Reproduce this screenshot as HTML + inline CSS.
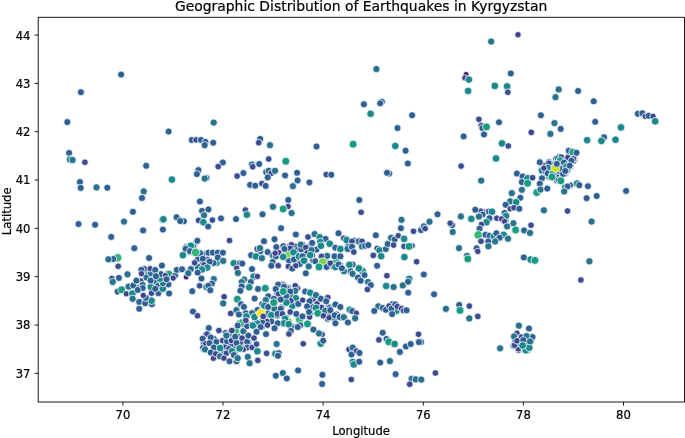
<!DOCTYPE html>
<html><head><meta charset="utf-8"><title>Geographic Distribution of Earthquakes in Kyrgyzstan</title>
<style>html,body{margin:0;padding:0;background:#fff;overflow:hidden}svg{display:block}text{font-family:"DejaVu Sans","Liberation Sans",sans-serif;fill:#000;stroke:#000;stroke-width:0.2px}.tk{font-size:11.6px}.lb{font-size:11.6px}.tt{font-size:13.92px}.m circle,.m path{stroke:#fff;stroke-width:0.75}</style></head><body>
<svg width="685" height="438" viewBox="0 0 685 438">
<rect width="685" height="438" fill="#fff"/>
<text class="tt" x="361.1" y="10.5" text-anchor="middle">Geographic Distribution of Earthquakes in Kyrgyzstan</text>
<text class="lb" x="361.1" y="435" text-anchor="middle">Longitude</text>
<text class="lb" transform="translate(10.9,211.3) rotate(-90)" text-anchor="middle">Latitude</text>
<g stroke="#000" stroke-width="0.9" fill="none">
<line x1="122.9" y1="402.0" x2="122.9" y2="405.6"/>
<line x1="223.0" y1="402.0" x2="223.0" y2="405.6"/>
<line x1="323.1" y1="402.0" x2="323.1" y2="405.6"/>
<line x1="423.3" y1="402.0" x2="423.3" y2="405.6"/>
<line x1="523.4" y1="402.0" x2="523.4" y2="405.6"/>
<line x1="623.5" y1="402.0" x2="623.5" y2="405.6"/>
<line x1="34.6" y1="373.3" x2="38.2" y2="373.3"/>
<line x1="34.6" y1="325.0" x2="38.2" y2="325.0"/>
<line x1="34.6" y1="276.7" x2="38.2" y2="276.7"/>
<line x1="34.6" y1="228.3" x2="38.2" y2="228.3"/>
<line x1="34.6" y1="180.0" x2="38.2" y2="180.0"/>
<line x1="34.6" y1="131.7" x2="38.2" y2="131.7"/>
<line x1="34.6" y1="83.4" x2="38.2" y2="83.4"/>
<line x1="34.6" y1="35.1" x2="38.2" y2="35.1"/>
</g>
<text class="tk" x="122.9" y="418.6" text-anchor="middle">70</text>
<text class="tk" x="223.0" y="418.6" text-anchor="middle">72</text>
<text class="tk" x="323.1" y="418.6" text-anchor="middle">74</text>
<text class="tk" x="423.3" y="418.6" text-anchor="middle">76</text>
<text class="tk" x="523.4" y="418.6" text-anchor="middle">78</text>
<text class="tk" x="623.5" y="418.6" text-anchor="middle">80</text>
<text class="tk" x="30.4" y="377.7" text-anchor="end">37</text>
<text class="tk" x="30.4" y="329.4" text-anchor="end">38</text>
<text class="tk" x="30.4" y="281.1" text-anchor="end">39</text>
<text class="tk" x="30.4" y="232.7" text-anchor="end">40</text>
<text class="tk" x="30.4" y="184.4" text-anchor="end">41</text>
<text class="tk" x="30.4" y="136.1" text-anchor="end">42</text>
<text class="tk" x="30.4" y="87.8" text-anchor="end">43</text>
<text class="tk" x="30.4" y="39.5" text-anchor="end">44</text>
<g class="m">
<circle cx="273.8" cy="256.4" r="3.52" fill="#2e6094"/>
<circle cx="293.1" cy="245.7" r="3.52" fill="#2e6094"/>
<circle cx="296.1" cy="250.5" r="3.52" fill="#2e6094"/>
<circle cx="300.2" cy="262.2" r="3.52" fill="#2e6094"/>
<circle cx="298.7" cy="263.5" r="3.62" fill="#2a738e"/>
<circle cx="302.6" cy="249.0" r="3.52" fill="#2e6094"/>
<circle cx="348.8" cy="247.2" r="3.52" fill="#2e6094"/>
<circle cx="541.4" cy="169.5" r="3.62" fill="#2a738e"/>
<circle cx="541.1" cy="169.6" r="3.32" fill="#3b4c93"/>
<circle cx="559.6" cy="161.9" r="3.32" fill="#3b4c93"/>
<circle cx="560.9" cy="161.5" r="3.62" fill="#2a738e"/>
<circle cx="564.4" cy="165.2" r="3.52" fill="#2e6094"/>
<circle cx="563.3" cy="164.5" r="3.52" fill="#2e6094"/>
<circle cx="558.9" cy="173.6" r="3.52" fill="#2e6094"/>
<circle cx="559.3" cy="171.0" r="3.52" fill="#2e6094"/>
<circle cx="555.0" cy="174.7" r="3.52" fill="#2e6094"/>
<circle cx="558.4" cy="173.3" r="3.32" fill="#3b4c93"/>
<circle cx="542.3" cy="165.2" r="3.52" fill="#2e6094"/>
<circle cx="543.7" cy="166.9" r="3.62" fill="#2a738e"/>
<circle cx="564.6" cy="161.0" r="3.52" fill="#2e6094"/>
<circle cx="565.1" cy="160.7" r="3.52" fill="#2e6094"/>
<circle cx="569.1" cy="164.9" r="3.62" fill="#2a738e"/>
<circle cx="570.5" cy="162.4" r="3.62" fill="#2a738e"/>
<circle cx="549.6" cy="172.2" r="3.52" fill="#2e6094"/>
<circle cx="551.6" cy="171.3" r="3.52" fill="#2e6094"/>
<circle cx="553.0" cy="166.8" r="3.32" fill="#3b4c93"/>
<circle cx="551.9" cy="166.0" r="3.52" fill="#2e6094"/>
<circle cx="558.6" cy="169.3" r="3.52" fill="#2e6094"/>
<circle cx="560.9" cy="167.0" r="3.62" fill="#2a738e"/>
<circle cx="565.2" cy="173.9" r="3.32" fill="#3b4c93"/>
<circle cx="564.1" cy="173.8" r="3.52" fill="#2e6094"/>
<circle cx="548.3" cy="175.1" r="3.62" fill="#2a738e"/>
<circle cx="549.6" cy="177.0" r="3.52" fill="#2e6094"/>
<circle cx="555.1" cy="178.2" r="3.52" fill="#2e6094"/>
<circle cx="555.9" cy="175.8" r="3.32" fill="#3b4c93"/>
<circle cx="545.4" cy="170.0" r="3.62" fill="#2a738e"/>
<circle cx="545.9" cy="170.4" r="3.62" fill="#2a738e"/>
<circle cx="556.2" cy="158.7" r="3.52" fill="#2e6094"/>
<circle cx="559.1" cy="158.9" r="3.52" fill="#2e6094"/>
<circle cx="167.9" cy="273.6" r="3.62" fill="#2a738e"/>
<circle cx="199.1" cy="267.7" r="3.52" fill="#2e6094"/>
<circle cx="235.7" cy="332.6" r="3.62" fill="#2a738e"/>
<circle cx="289.8" cy="296.6" r="3.52" fill="#2e6094"/>
<circle cx="293.2" cy="298.5" r="3.32" fill="#3b4c93"/>
<circle cx="269.5" cy="313.9" r="3.52" fill="#2e6094"/>
<circle cx="312.6" cy="298.1" r="3.52" fill="#2e6094"/>
<circle cx="312.6" cy="307.9" r="3.52" fill="#2e6094"/>
<circle cx="328.6" cy="307.0" r="3.52" fill="#2e6094"/>
<circle cx="331.5" cy="313.2" r="3.52" fill="#2e6094"/>
<circle cx="334.8" cy="316.9" r="3.52" fill="#2e6094"/>
<circle cx="286.7" cy="317.8" r="3.52" fill="#2e6094"/>
<circle cx="214.1" cy="340.3" r="3.52" fill="#2e6094"/>
<circle cx="231.1" cy="334.1" r="3.32" fill="#3b4c93"/>
<circle cx="239.5" cy="340.6" r="3.32" fill="#3b4c93"/>
<circle cx="221.5" cy="351.7" r="3.52" fill="#2e6094"/>
<circle cx="211.9" cy="342.4" r="3.52" fill="#2e6094"/>
<circle cx="227.6" cy="346.4" r="3.52" fill="#2e6094"/>
<circle cx="229.6" cy="343.1" r="3.52" fill="#2e6094"/>
<circle cx="155.8" cy="287.2" r="3.52" fill="#2e6094"/>
<circle cx="149.0" cy="276.2" r="3.52" fill="#2e6094"/>
<circle cx="204.9" cy="253.6" r="3.32" fill="#3b4c93"/>
<circle cx="200.3" cy="258.2" r="3.52" fill="#2e6094"/>
<circle cx="186.2" cy="247.2" r="3.62" fill="#2a738e"/>
<circle cx="194.0" cy="244.5" r="3.62" fill="#2a738e"/>
<circle cx="335.0" cy="261.8" r="3.62" fill="#2a738e"/>
<circle cx="239.6" cy="322.7" r="3.32" fill="#3b4c93"/>
<circle cx="292.5" cy="326.7" r="3.52" fill="#2e6094"/>
<circle cx="561.3" cy="158.8" r="3.52" fill="#2e6094"/>
<circle cx="559.3" cy="156.8" r="3.52" fill="#2e6094"/>
<circle cx="566.6" cy="158.8" r="3.62" fill="#2a738e"/>
<circle cx="568.4" cy="156.4" r="3.32" fill="#3b4c93"/>
<circle cx="574.5" cy="160.1" r="3.32" fill="#3b4c93"/>
<circle cx="573.7" cy="157.4" r="3.52" fill="#2e6094"/>
<circle cx="569.3" cy="161.0" r="3.62" fill="#2a738e"/>
<circle cx="573.2" cy="161.3" r="3.32" fill="#3b4c93"/>
<circle cx="549.2" cy="162.1" r="3.62" fill="#2a738e"/>
<circle cx="550.1" cy="163.5" r="3.52" fill="#2e6094"/>
<circle cx="558.2" cy="160.6" r="3.52" fill="#2e6094"/>
<circle cx="558.6" cy="161.2" r="3.32" fill="#3b4c93"/>
<circle cx="564.5" cy="163.9" r="3.62" fill="#2a738e"/>
<circle cx="562.5" cy="162.3" r="3.52" fill="#2e6094"/>
<circle cx="568.3" cy="165.0" r="3.52" fill="#2e6094"/>
<circle cx="568.3" cy="165.6" r="3.52" fill="#2e6094"/>
<circle cx="570.5" cy="166.6" r="3.32" fill="#3b4c93"/>
<circle cx="568.9" cy="167.0" r="3.62" fill="#2a738e"/>
<circle cx="564.1" cy="169.4" r="3.52" fill="#2e6094"/>
<circle cx="566.8" cy="170.5" r="3.62" fill="#2a738e"/>
<circle cx="549.6" cy="166.5" r="3.52" fill="#2e6094"/>
<circle cx="547.7" cy="167.0" r="3.62" fill="#2a738e"/>
<circle cx="543.1" cy="167.1" r="3.62" fill="#2a738e"/>
<circle cx="542.4" cy="168.7" r="3.62" fill="#2a738e"/>
<circle cx="546.8" cy="174.2" r="3.52" fill="#2e6094"/>
<circle cx="549.4" cy="173.5" r="3.62" fill="#2a738e"/>
<circle cx="551.2" cy="175.1" r="3.52" fill="#2e6094"/>
<circle cx="551.6" cy="174.0" r="3.52" fill="#2e6094"/>
<circle cx="553.3" cy="177.8" r="3.52" fill="#2e6094"/>
<circle cx="553.0" cy="176.5" r="3.52" fill="#2e6094"/>
<circle cx="559.6" cy="178.5" r="3.52" fill="#2e6094"/>
<circle cx="556.9" cy="180.6" r="3.32" fill="#3b4c93"/>
<circle cx="482.8" cy="211.7" r="3.32" fill="#3b4c93"/>
<circle cx="502.9" cy="219.0" r="3.52" fill="#2e6094"/>
<circle cx="505.5" cy="220.5" r="3.52" fill="#2e6094"/>
<circle cx="488.4" cy="237.2" r="3.52" fill="#2e6094"/>
<circle cx="499.0" cy="235.7" r="3.52" fill="#2e6094"/>
<circle cx="156.3" cy="290.6" r="3.62" fill="#2a738e"/>
<circle cx="162.9" cy="287.5" r="3.62" fill="#2a738e"/>
<circle cx="138.6" cy="288.0" r="3.52" fill="#2e6094"/>
<circle cx="146.3" cy="275.9" r="3.52" fill="#2e6094"/>
<circle cx="160.1" cy="280.2" r="3.62" fill="#2a738e"/>
<circle cx="152.8" cy="271.9" r="3.32" fill="#3b4c93"/>
<circle cx="144.5" cy="270.2" r="3.52" fill="#2e6094"/>
<circle cx="164.5" cy="276.5" r="3.52" fill="#2e6094"/>
<circle cx="164.8" cy="277.9" r="3.32" fill="#3b4c93"/>
<circle cx="158.0" cy="277.2" r="3.62" fill="#2a738e"/>
<circle cx="185.7" cy="250.2" r="3.32" fill="#3b4c93"/>
<circle cx="189.8" cy="252.1" r="3.52" fill="#2e6094"/>
<circle cx="202.9" cy="260.8" r="3.52" fill="#2e6094"/>
<circle cx="218.5" cy="258.8" r="3.52" fill="#2e6094"/>
<circle cx="202.4" cy="264.8" r="3.62" fill="#2a738e"/>
<circle cx="320.9" cy="241.0" r="3.62" fill="#2a738e"/>
<circle cx="302.5" cy="244.8" r="3.52" fill="#2e6094"/>
<circle cx="308.1" cy="247.0" r="3.52" fill="#2e6094"/>
<circle cx="289.7" cy="246.4" r="3.32" fill="#3b4c93"/>
<circle cx="306.7" cy="254.3" r="3.52" fill="#2e6094"/>
<circle cx="294.8" cy="250.7" r="3.62" fill="#2a738e"/>
<circle cx="310.9" cy="248.7" r="3.62" fill="#2a738e"/>
<circle cx="294.4" cy="258.5" r="3.62" fill="#2a738e"/>
<circle cx="297.5" cy="264.6" r="3.62" fill="#2a738e"/>
<circle cx="300.1" cy="256.9" r="3.62" fill="#2a738e"/>
<circle cx="304.4" cy="257.5" r="3.62" fill="#2a738e"/>
<circle cx="312.2" cy="255.3" r="3.52" fill="#2e6094"/>
<circle cx="325.1" cy="262.3" r="3.62" fill="#2a738e"/>
<circle cx="333.2" cy="266.7" r="3.32" fill="#3b4c93"/>
<circle cx="340.0" cy="265.1" r="3.62" fill="#2a738e"/>
<circle cx="283.4" cy="284.6" r="3.32" fill="#3b4c93"/>
<circle cx="287.8" cy="287.6" r="3.52" fill="#2e6094"/>
<circle cx="294.3" cy="289.9" r="3.52" fill="#2e6094"/>
<circle cx="277.2" cy="292.6" r="3.62" fill="#2a738e"/>
<circle cx="291.6" cy="291.6" r="3.52" fill="#2e6094"/>
<circle cx="316.3" cy="296.6" r="3.62" fill="#2a738e"/>
<circle cx="319.0" cy="299.1" r="3.52" fill="#2e6094"/>
<circle cx="290.3" cy="301.7" r="3.32" fill="#3b4c93"/>
<circle cx="296.0" cy="304.4" r="3.32" fill="#3b4c93"/>
<circle cx="266.5" cy="304.7" r="3.52" fill="#2e6094"/>
<circle cx="275.7" cy="310.1" r="3.52" fill="#2e6094"/>
<circle cx="281.5" cy="307.5" r="3.52" fill="#2e6094"/>
<circle cx="308.6" cy="305.5" r="3.52" fill="#2e6094"/>
<circle cx="318.0" cy="307.4" r="3.32" fill="#3b4c93"/>
<circle cx="310.1" cy="313.1" r="3.52" fill="#2e6094"/>
<circle cx="324.5" cy="312.0" r="3.52" fill="#2e6094"/>
<circle cx="325.4" cy="315.0" r="3.62" fill="#2a738e"/>
<circle cx="327.8" cy="318.7" r="3.62" fill="#2a738e"/>
<circle cx="336.7" cy="314.4" r="3.52" fill="#2e6094"/>
<circle cx="341.7" cy="317.6" r="3.62" fill="#2a738e"/>
<circle cx="277.4" cy="315.5" r="3.52" fill="#2e6094"/>
<circle cx="286.2" cy="323.6" r="3.32" fill="#3b4c93"/>
<circle cx="262.2" cy="321.6" r="3.62" fill="#2a738e"/>
<circle cx="255.8" cy="322.5" r="3.52" fill="#2e6094"/>
<circle cx="262.3" cy="326.3" r="3.52" fill="#2e6094"/>
<circle cx="206.0" cy="335.2" r="3.62" fill="#2a738e"/>
<circle cx="209.7" cy="336.3" r="3.52" fill="#2e6094"/>
<circle cx="204.0" cy="343.2" r="3.52" fill="#2e6094"/>
<circle cx="211.2" cy="343.8" r="3.32" fill="#3b4c93"/>
<circle cx="214.7" cy="342.3" r="3.32" fill="#3b4c93"/>
<circle cx="203.6" cy="349.0" r="3.52" fill="#2e6094"/>
<circle cx="215.3" cy="348.2" r="3.52" fill="#2e6094"/>
<circle cx="218.1" cy="354.0" r="3.32" fill="#3b4c93"/>
<circle cx="218.3" cy="347.9" r="3.52" fill="#2e6094"/>
<circle cx="225.4" cy="340.6" r="3.62" fill="#2a738e"/>
<circle cx="229.7" cy="339.2" r="3.52" fill="#2e6094"/>
<circle cx="227.8" cy="334.7" r="3.62" fill="#2a738e"/>
<circle cx="237.5" cy="336.3" r="3.52" fill="#2e6094"/>
<circle cx="226.9" cy="349.6" r="3.32" fill="#3b4c93"/>
<circle cx="234.3" cy="352.2" r="3.62" fill="#2a738e"/>
<circle cx="248.3" cy="342.7" r="3.62" fill="#2a738e"/>
<circle cx="248.1" cy="324.6" r="3.32" fill="#3b4c93"/>
<circle cx="346.8" cy="239.1" r="3.52" fill="#2e6094"/>
<circle cx="353.9" cy="240.6" r="3.52" fill="#2e6094"/>
<circle cx="365.2" cy="244.7" r="3.52" fill="#2e6094"/>
<circle cx="384.3" cy="309.1" r="3.52" fill="#2e6094"/>
<circle cx="392.8" cy="303.9" r="3.52" fill="#2e6094"/>
<circle cx="518.5" cy="350.2" r="3.32" fill="#3b4c93"/>
<circle cx="519.0" cy="344.0" r="3.32" fill="#3b4c93"/>
<circle cx="527.2" cy="350.8" r="3.32" fill="#3b4c93"/>
<circle cx="528.2" cy="336.4" r="3.32" fill="#3b4c93"/>
<circle cx="513.5" cy="345.8" r="3.52" fill="#2e6094"/>
<circle cx="515.4" cy="340.8" r="3.52" fill="#2e6094"/>
<circle cx="524.0" cy="338.9" r="3.52" fill="#2e6094"/>
<circle cx="531.1" cy="340.7" r="3.62" fill="#2a738e"/>
<circle cx="523.3" cy="346.7" r="3.32" fill="#3b4c93"/>
<circle cx="286.6" cy="323.1" r="3.52" fill="#2e6094"/>
<circle cx="264.7" cy="316.2" r="3.52" fill="#2e6094"/>
<circle cx="556.4" cy="169.3" r="3.62" fill="#2a738e"/>
<circle cx="557.0" cy="166.9" r="3.52" fill="#2e6094"/>
<circle cx="556.1" cy="165.0" r="3.62" fill="#2a738e"/>
<circle cx="556.8" cy="163.1" r="3.32" fill="#3b4c93"/>
<circle cx="241.0" cy="346.8" r="3.32" fill="#3b4c93"/>
<circle cx="284.9" cy="291.5" r="3.52" fill="#2e6094"/>
<circle cx="260.4" cy="251.2" r="3.52" fill="#2e6094"/>
<circle cx="272.5" cy="255.0" r="3.62" fill="#2a738e"/>
<circle cx="275.8" cy="256.6" r="3.52" fill="#2e6094"/>
<circle cx="283.3" cy="246.2" r="3.52" fill="#2e6094"/>
<circle cx="295.3" cy="246.7" r="3.52" fill="#2e6094"/>
<circle cx="289.1" cy="260.8" r="3.52" fill="#2e6094"/>
<circle cx="297.4" cy="250.0" r="3.52" fill="#2e6094"/>
<circle cx="298.3" cy="261.6" r="3.52" fill="#2e6094"/>
<circle cx="299.9" cy="264.1" r="3.52" fill="#2e6094"/>
<circle cx="301.3" cy="249.2" r="3.52" fill="#2e6094"/>
<circle cx="327.1" cy="255.9" r="3.62" fill="#2a738e"/>
<circle cx="347.9" cy="246.3" r="3.32" fill="#3b4c93"/>
<circle cx="313.0" cy="260.4" r="3.32" fill="#3b4c93"/>
<circle cx="542.0" cy="170.5" r="3.82" fill="#1b888c"/>
<circle cx="561.5" cy="162.6" r="3.52" fill="#2e6094"/>
<circle cx="562.8" cy="165.9" r="3.52" fill="#2e6094"/>
<circle cx="559.5" cy="172.1" r="3.82" fill="#1b888c"/>
<circle cx="557.0" cy="173.8" r="3.52" fill="#2e6094"/>
<circle cx="544.5" cy="165.9" r="3.52" fill="#2e6094"/>
<circle cx="566.9" cy="160.5" r="3.52" fill="#2e6094"/>
<circle cx="569.9" cy="163.4" r="3.32" fill="#3b4c93"/>
<circle cx="551.0" cy="170.5" r="3.52" fill="#2e6094"/>
<circle cx="553.5" cy="165.0" r="3.52" fill="#2e6094"/>
<circle cx="560.0" cy="168.5" r="3.32" fill="#3b4c93"/>
<circle cx="563.0" cy="174.0" r="3.52" fill="#2e6094"/>
<circle cx="549.0" cy="176.0" r="3.62" fill="#2a738e"/>
<circle cx="556.5" cy="177.0" r="3.52" fill="#2e6094"/>
<circle cx="545.5" cy="171.5" r="3.32" fill="#3b4c93"/>
<circle cx="558.0" cy="158.5" r="3.52" fill="#2e6094"/>
<circle cx="150.8" cy="287.1" r="3.82" fill="#1b888c"/>
<circle cx="169.1" cy="274.3" r="3.97" fill="#199b82"/>
<circle cx="216.6" cy="262.6" r="3.97" fill="#199b82"/>
<circle cx="197.7" cy="266.9" r="3.62" fill="#2a738e"/>
<circle cx="235.2" cy="331.2" r="4.27" fill="#35b779"/>
<circle cx="290.8" cy="295.4" r="3.62" fill="#2a738e"/>
<circle cx="297.4" cy="288.3" r="3.32" fill="#3b4c93"/>
<circle cx="295.8" cy="298.3" r="3.82" fill="#1b888c"/>
<circle cx="292.4" cy="305.8" r="3.82" fill="#1b888c"/>
<circle cx="262.1" cy="304.1" r="3.32" fill="#3b4c93"/>
<circle cx="268.3" cy="313.3" r="3.62" fill="#2a738e"/>
<circle cx="318.3" cy="297.1" r="3.32" fill="#3b4c93"/>
<circle cx="313.3" cy="299.6" r="3.17" fill="#3f448c"/>
<circle cx="317.1" cy="303.7" r="3.17" fill="#3f448c"/>
<circle cx="311.4" cy="306.6" r="3.32" fill="#3b4c93"/>
<circle cx="321.6" cy="307.5" r="3.32" fill="#3b4c93"/>
<circle cx="329.5" cy="307.9" r="3.32" fill="#3b4c93"/>
<circle cx="309.6" cy="317.0" r="3.32" fill="#3b4c93"/>
<circle cx="330.0" cy="314.0" r="3.32" fill="#3b4c93"/>
<circle cx="334.5" cy="318.3" r="3.82" fill="#1b888c"/>
<circle cx="286.2" cy="319.6" r="3.97" fill="#199b82"/>
<circle cx="299.6" cy="319.5" r="4.27" fill="#35b779"/>
<circle cx="288.3" cy="322.1" r="4.47" fill="#7ad151"/>
<circle cx="213.8" cy="338.7" r="3.52" fill="#2e6094"/>
<circle cx="203.0" cy="347.5" r="3.32" fill="#3b4c93"/>
<circle cx="225.5" cy="332.9" r="3.32" fill="#3b4c93"/>
<circle cx="228.8" cy="334.2" r="3.52" fill="#2e6094"/>
<circle cx="240.4" cy="342.5" r="3.17" fill="#3f448c"/>
<circle cx="232.9" cy="347.5" r="3.17" fill="#3f448c"/>
<circle cx="223.0" cy="350.0" r="3.62" fill="#2a738e"/>
<circle cx="213.4" cy="358.3" r="3.17" fill="#3f448c"/>
<circle cx="211.7" cy="341.2" r="3.52" fill="#2e6094"/>
<circle cx="225.5" cy="346.6" r="3.32" fill="#3b4c93"/>
<circle cx="230.9" cy="344.6" r="3.52" fill="#2e6094"/>
<circle cx="155.9" cy="281.5" r="3.62" fill="#2a738e"/>
<circle cx="157.5" cy="286.1" r="3.32" fill="#3b4c93"/>
<circle cx="148.0" cy="274.5" r="3.52" fill="#2e6094"/>
<circle cx="202.8" cy="254.2" r="3.52" fill="#2e6094"/>
<circle cx="198.2" cy="258.8" r="3.52" fill="#2e6094"/>
<circle cx="207.4" cy="259.6" r="3.32" fill="#3b4c93"/>
<circle cx="213.6" cy="263.0" r="3.52" fill="#2e6094"/>
<circle cx="187.8" cy="248.0" r="3.52" fill="#2e6094"/>
<circle cx="192.8" cy="246.3" r="3.82" fill="#1b888c"/>
<circle cx="287.6" cy="253.7" r="4.47" fill="#7ad151"/>
<circle cx="536.7" cy="192.5" r="3.97" fill="#199b82"/>
<circle cx="336.3" cy="262.1" r="4.27" fill="#35b779"/>
<circle cx="242.1" cy="323.0" r="4.27" fill="#35b779"/>
<circle cx="186.2" cy="277.0" r="2.92" fill="#45186a"/>
<circle cx="206.5" cy="287.0" r="3.82" fill="#1b888c"/>
<circle cx="362.6" cy="271.3" r="3.97" fill="#199b82"/>
<circle cx="396.5" cy="310.7" r="3.82" fill="#1b888c"/>
<circle cx="291.6" cy="327.5" r="3.17" fill="#3f448c"/>
<circle cx="80.9" cy="92.2" r="3.52" fill="#2e6094"/>
<circle cx="121.1" cy="74.6" r="3.52" fill="#2e6094"/>
<circle cx="376.4" cy="69.1" r="3.62" fill="#2a738e"/>
<circle cx="491.2" cy="41.5" r="3.62" fill="#2a738e"/>
<circle cx="466.1" cy="74.4" r="2.92" fill="#45186a"/>
<circle cx="464.9" cy="77.9" r="3.17" fill="#3f448c"/>
<circle cx="468.9" cy="79.6" r="3.82" fill="#1b888c"/>
<circle cx="468.1" cy="91.0" r="3.82" fill="#1b888c"/>
<circle cx="494.8" cy="85.9" r="3.82" fill="#1b888c"/>
<circle cx="507.1" cy="86.4" r="3.82" fill="#1b888c"/>
<circle cx="510.8" cy="73.4" r="3.52" fill="#2e6094"/>
<circle cx="507.8" cy="92.2" r="3.32" fill="#3b4c93"/>
<circle cx="363.9" cy="104.3" r="3.52" fill="#2e6094"/>
<circle cx="381.9" cy="101.8" r="3.52" fill="#2e6094"/>
<circle cx="380.2" cy="103.3" r="3.52" fill="#2e6094"/>
<circle cx="518.0" cy="34.7" r="3.17" fill="#3f448c"/>
<circle cx="558.7" cy="89.4" r="3.62" fill="#2a738e"/>
<circle cx="555.5" cy="97.2" r="3.62" fill="#2a738e"/>
<circle cx="578.1" cy="91.0" r="3.52" fill="#2e6094"/>
<circle cx="593.7" cy="101.3" r="3.52" fill="#2e6094"/>
<circle cx="67.3" cy="122.1" r="3.52" fill="#2e6094"/>
<circle cx="69.1" cy="153.0" r="3.52" fill="#2e6094"/>
<circle cx="70.1" cy="159.5" r="3.82" fill="#1b888c"/>
<circle cx="72.6" cy="160.0" r="3.62" fill="#2a738e"/>
<circle cx="84.9" cy="162.3" r="3.32" fill="#3b4c93"/>
<circle cx="79.9" cy="182.1" r="3.52" fill="#2e6094"/>
<circle cx="80.7" cy="187.9" r="3.52" fill="#2e6094"/>
<circle cx="96.5" cy="187.4" r="3.62" fill="#2a738e"/>
<circle cx="107.3" cy="187.7" r="3.52" fill="#2e6094"/>
<circle cx="146.2" cy="165.8" r="3.52" fill="#2e6094"/>
<circle cx="143.7" cy="191.4" r="3.62" fill="#2a738e"/>
<circle cx="142.0" cy="198.0" r="3.52" fill="#2e6094"/>
<circle cx="132.9" cy="211.8" r="3.52" fill="#2e6094"/>
<circle cx="168.6" cy="131.6" r="3.52" fill="#2e6094"/>
<circle cx="171.9" cy="179.6" r="3.82" fill="#1b888c"/>
<circle cx="213.7" cy="122.6" r="3.62" fill="#2a738e"/>
<circle cx="191.8" cy="139.9" r="3.52" fill="#2e6094"/>
<circle cx="196.1" cy="139.9" r="3.32" fill="#3b4c93"/>
<circle cx="200.9" cy="139.9" r="3.52" fill="#2e6094"/>
<circle cx="205.4" cy="141.9" r="3.52" fill="#2e6094"/>
<circle cx="204.7" cy="145.2" r="3.52" fill="#2e6094"/>
<circle cx="213.2" cy="142.7" r="3.52" fill="#2e6094"/>
<circle cx="260.2" cy="138.9" r="3.52" fill="#2e6094"/>
<circle cx="258.7" cy="142.7" r="3.32" fill="#3b4c93"/>
<circle cx="270.0" cy="145.2" r="3.62" fill="#2a738e"/>
<circle cx="316.5" cy="146.5" r="3.52" fill="#2e6094"/>
<circle cx="222.8" cy="162.5" r="3.52" fill="#2e6094"/>
<circle cx="218.2" cy="166.6" r="3.32" fill="#3b4c93"/>
<circle cx="198.4" cy="170.1" r="3.52" fill="#2e6094"/>
<circle cx="196.9" cy="174.1" r="3.52" fill="#2e6094"/>
<circle cx="206.5" cy="177.9" r="3.52" fill="#2e6094"/>
<circle cx="204.7" cy="178.6" r="3.62" fill="#2a738e"/>
<circle cx="243.4" cy="173.1" r="3.52" fill="#2e6094"/>
<circle cx="237.1" cy="176.1" r="3.32" fill="#3b4c93"/>
<circle cx="251.9" cy="164.5" r="3.62" fill="#2a738e"/>
<circle cx="252.7" cy="166.8" r="3.32" fill="#3b4c93"/>
<circle cx="259.2" cy="164.0" r="3.52" fill="#2e6094"/>
<circle cx="268.7" cy="159.0" r="3.32" fill="#3b4c93"/>
<circle cx="285.8" cy="161.3" r="3.97" fill="#199b82"/>
<circle cx="266.2" cy="172.1" r="3.52" fill="#2e6094"/>
<circle cx="268.7" cy="170.8" r="3.62" fill="#2a738e"/>
<circle cx="271.2" cy="173.3" r="3.32" fill="#3b4c93"/>
<circle cx="275.0" cy="170.8" r="3.62" fill="#2a738e"/>
<circle cx="267.7" cy="177.4" r="3.52" fill="#2e6094"/>
<circle cx="285.1" cy="175.4" r="3.52" fill="#2e6094"/>
<circle cx="297.1" cy="172.8" r="3.52" fill="#2e6094"/>
<circle cx="297.6" cy="180.4" r="3.52" fill="#2e6094"/>
<circle cx="292.9" cy="186.2" r="3.62" fill="#2a738e"/>
<circle cx="309.4" cy="182.4" r="3.52" fill="#2e6094"/>
<circle cx="326.3" cy="174.6" r="3.32" fill="#3b4c93"/>
<circle cx="331.3" cy="174.8" r="3.52" fill="#2e6094"/>
<circle cx="250.1" cy="184.9" r="3.52" fill="#2e6094"/>
<circle cx="255.2" cy="185.7" r="3.52" fill="#2e6094"/>
<circle cx="261.9" cy="183.6" r="3.32" fill="#3b4c93"/>
<circle cx="265.7" cy="185.9" r="3.52" fill="#2e6094"/>
<circle cx="199.9" cy="201.5" r="3.52" fill="#2e6094"/>
<circle cx="262.5" cy="214.3" r="3.52" fill="#2e6094"/>
<circle cx="273.0" cy="206.8" r="3.62" fill="#2a738e"/>
<circle cx="288.3" cy="200.0" r="3.52" fill="#2e6094"/>
<circle cx="288.1" cy="206.5" r="3.17" fill="#3f448c"/>
<circle cx="283.1" cy="209.0" r="3.97" fill="#199b82"/>
<circle cx="291.6" cy="213.0" r="3.62" fill="#2a738e"/>
<circle cx="370.6" cy="113.8" r="3.82" fill="#1b888c"/>
<circle cx="412.1" cy="115.3" r="3.52" fill="#2e6094"/>
<circle cx="397.5" cy="128.1" r="3.52" fill="#2e6094"/>
<circle cx="353.1" cy="144.2" r="3.97" fill="#199b82"/>
<circle cx="395.3" cy="146.0" r="3.82" fill="#1b888c"/>
<circle cx="405.6" cy="150.7" r="3.52" fill="#2e6094"/>
<circle cx="407.8" cy="163.5" r="3.52" fill="#2e6094"/>
<circle cx="389.2" cy="173.6" r="3.52" fill="#2e6094"/>
<circle cx="387.0" cy="172.8" r="3.52" fill="#2e6094"/>
<circle cx="359.3" cy="200.0" r="3.52" fill="#2e6094"/>
<circle cx="361.1" cy="212.3" r="3.32" fill="#3b4c93"/>
<circle cx="437.5" cy="214.3" r="3.52" fill="#2e6094"/>
<circle cx="463.6" cy="136.4" r="3.52" fill="#2e6094"/>
<circle cx="461.1" cy="166.1" r="3.32" fill="#3b4c93"/>
<circle cx="478.9" cy="119.3" r="3.32" fill="#3b4c93"/>
<circle cx="481.2" cy="125.6" r="3.32" fill="#3b4c93"/>
<circle cx="482.4" cy="128.1" r="3.52" fill="#2e6094"/>
<circle cx="486.5" cy="126.9" r="3.97" fill="#199b82"/>
<circle cx="484.0" cy="134.4" r="3.52" fill="#2e6094"/>
<circle cx="499.0" cy="122.3" r="3.52" fill="#2e6094"/>
<circle cx="502.0" cy="143.4" r="3.82" fill="#1b888c"/>
<circle cx="508.3" cy="146.0" r="3.32" fill="#3b4c93"/>
<circle cx="496.0" cy="158.5" r="3.82" fill="#1b888c"/>
<circle cx="481.2" cy="180.6" r="3.62" fill="#2a738e"/>
<circle cx="540.9" cy="115.3" r="3.52" fill="#2e6094"/>
<circle cx="554.5" cy="123.1" r="3.62" fill="#2a738e"/>
<circle cx="560.7" cy="128.9" r="3.52" fill="#2e6094"/>
<circle cx="550.4" cy="133.9" r="3.62" fill="#2a738e"/>
<circle cx="531.3" cy="132.4" r="3.32" fill="#3b4c93"/>
<circle cx="595.2" cy="121.8" r="3.52" fill="#2e6094"/>
<circle cx="621.0" cy="127.4" r="3.82" fill="#1b888c"/>
<circle cx="587.1" cy="140.2" r="3.82" fill="#1b888c"/>
<circle cx="604.0" cy="137.2" r="3.52" fill="#2e6094"/>
<circle cx="601.4" cy="140.9" r="3.82" fill="#1b888c"/>
<circle cx="615.5" cy="139.7" r="3.82" fill="#1b888c"/>
<circle cx="637.9" cy="113.8" r="3.52" fill="#2e6094"/>
<circle cx="642.4" cy="113.3" r="3.52" fill="#2e6094"/>
<circle cx="645.4" cy="116.3" r="3.32" fill="#3b4c93"/>
<circle cx="648.7" cy="115.8" r="3.52" fill="#2e6094"/>
<circle cx="653.0" cy="116.3" r="3.17" fill="#3f448c"/>
<circle cx="655.2" cy="121.3" r="3.82" fill="#1b888c"/>
<circle cx="626.1" cy="190.9" r="3.52" fill="#2e6094"/>
<circle cx="596.7" cy="196.0" r="3.52" fill="#2e6094"/>
<circle cx="586.6" cy="198.2" r="3.52" fill="#2e6094"/>
<circle cx="587.9" cy="186.2" r="3.52" fill="#2e6094"/>
<circle cx="577.1" cy="183.6" r="3.82" fill="#1b888c"/>
<circle cx="579.3" cy="185.2" r="3.52" fill="#2e6094"/>
<circle cx="567.5" cy="211.0" r="3.32" fill="#3b4c93"/>
<circle cx="543.9" cy="210.3" r="3.62" fill="#2a738e"/>
<circle cx="568.8" cy="150.7" r="3.52" fill="#2e6094"/>
<circle cx="572.8" cy="152.2" r="3.97" fill="#199b82"/>
<circle cx="576.5" cy="152.8" r="3.52" fill="#2e6094"/>
<circle cx="561.2" cy="157.2" r="3.32" fill="#3b4c93"/>
<circle cx="567.8" cy="157.6" r="3.17" fill="#3f448c"/>
<circle cx="573.4" cy="158.8" r="3.32" fill="#3b4c93"/>
<circle cx="571.5" cy="160.7" r="3.52" fill="#2e6094"/>
<circle cx="539.8" cy="162.2" r="3.52" fill="#2e6094"/>
<circle cx="548.9" cy="163.2" r="3.32" fill="#3b4c93"/>
<circle cx="560.2" cy="160.7" r="3.97" fill="#199b82"/>
<circle cx="564.0" cy="162.6" r="3.52" fill="#2e6094"/>
<circle cx="566.5" cy="166.4" r="3.82" fill="#1b888c"/>
<circle cx="569.6" cy="165.7" r="3.52" fill="#2e6094"/>
<circle cx="565.2" cy="171.0" r="3.52" fill="#2e6094"/>
<circle cx="547.7" cy="167.9" r="3.82" fill="#1b888c"/>
<circle cx="543.9" cy="168.2" r="3.17" fill="#3f448c"/>
<circle cx="547.7" cy="173.3" r="3.52" fill="#2e6094"/>
<circle cx="552.7" cy="174.1" r="3.82" fill="#1b888c"/>
<circle cx="552.0" cy="177.0" r="3.97" fill="#199b82"/>
<circle cx="542.0" cy="178.3" r="3.52" fill="#2e6094"/>
<circle cx="558.3" cy="179.9" r="3.17" fill="#3f448c"/>
<circle cx="560.8" cy="180.8" r="3.97" fill="#199b82"/>
<circle cx="516.9" cy="173.6" r="3.52" fill="#2e6094"/>
<circle cx="522.6" cy="176.4" r="3.52" fill="#2e6094"/>
<circle cx="527.6" cy="178.3" r="3.82" fill="#1b888c"/>
<circle cx="532.6" cy="177.7" r="3.32" fill="#3b4c93"/>
<circle cx="521.9" cy="182.1" r="3.52" fill="#2e6094"/>
<circle cx="527.6" cy="183.3" r="3.97" fill="#199b82"/>
<circle cx="539.8" cy="183.7" r="3.52" fill="#2e6094"/>
<circle cx="521.9" cy="189.8" r="3.62" fill="#2a738e"/>
<circle cx="540.5" cy="189.6" r="3.62" fill="#2a738e"/>
<circle cx="547.3" cy="188.6" r="3.52" fill="#2e6094"/>
<circle cx="511.8" cy="193.2" r="3.62" fill="#2a738e"/>
<circle cx="570.3" cy="185.2" r="3.17" fill="#3f448c"/>
<circle cx="565.2" cy="187.5" r="3.97" fill="#199b82"/>
<circle cx="567.5" cy="186.5" r="3.52" fill="#2e6094"/>
<circle cx="564.2" cy="191.5" r="3.62" fill="#2a738e"/>
<circle cx="520.3" cy="197.8" r="3.52" fill="#2e6094"/>
<circle cx="510.2" cy="201.3" r="3.62" fill="#2a738e"/>
<circle cx="516.1" cy="202.2" r="3.82" fill="#1b888c"/>
<circle cx="505.6" cy="204.8" r="3.52" fill="#2e6094"/>
<circle cx="510.2" cy="208.8" r="3.17" fill="#3f448c"/>
<circle cx="514.0" cy="207.8" r="3.32" fill="#3b4c93"/>
<circle cx="519.3" cy="208.8" r="3.52" fill="#2e6094"/>
<circle cx="480.7" cy="211.1" r="3.17" fill="#3f448c"/>
<circle cx="475.3" cy="209.7" r="3.52" fill="#2e6094"/>
<circle cx="482.6" cy="214.5" r="3.52" fill="#2e6094"/>
<circle cx="478.9" cy="216.6" r="3.62" fill="#2a738e"/>
<circle cx="488.9" cy="211.6" r="3.52" fill="#2e6094"/>
<circle cx="492.0" cy="211.7" r="3.82" fill="#1b888c"/>
<circle cx="460.9" cy="216.4" r="3.62" fill="#2a738e"/>
<circle cx="471.3" cy="218.9" r="3.82" fill="#1b888c"/>
<circle cx="504.6" cy="212.9" r="3.52" fill="#2e6094"/>
<circle cx="506.1" cy="216.0" r="3.82" fill="#1b888c"/>
<circle cx="496.8" cy="218.2" r="3.32" fill="#3b4c93"/>
<circle cx="501.5" cy="218.9" r="3.17" fill="#3f448c"/>
<circle cx="489.5" cy="218.2" r="3.52" fill="#2e6094"/>
<circle cx="486.4" cy="222.3" r="3.82" fill="#1b888c"/>
<circle cx="504.6" cy="221.4" r="3.17" fill="#3f448c"/>
<circle cx="513.4" cy="223.3" r="3.62" fill="#2a738e"/>
<circle cx="507.1" cy="226.4" r="3.62" fill="#2a738e"/>
<circle cx="481.4" cy="224.5" r="3.17" fill="#3f448c"/>
<circle cx="479.5" cy="228.7" r="3.52" fill="#2e6094"/>
<circle cx="515.6" cy="229.9" r="3.97" fill="#199b82"/>
<circle cx="531.0" cy="225.2" r="3.32" fill="#3b4c93"/>
<circle cx="524.1" cy="230.4" r="3.52" fill="#2e6094"/>
<circle cx="530.0" cy="232.9" r="3.62" fill="#2a738e"/>
<circle cx="478.2" cy="234.9" r="4.27" fill="#35b779"/>
<circle cx="485.5" cy="234.8" r="3.52" fill="#2e6094"/>
<circle cx="489.5" cy="235.8" r="3.52" fill="#2e6094"/>
<circle cx="493.9" cy="236.5" r="3.82" fill="#1b888c"/>
<circle cx="496.4" cy="233.3" r="3.52" fill="#2e6094"/>
<circle cx="503.7" cy="234.9" r="3.82" fill="#1b888c"/>
<circle cx="499.6" cy="237.7" r="3.52" fill="#2e6094"/>
<circle cx="508.0" cy="238.7" r="3.62" fill="#2a738e"/>
<circle cx="481.0" cy="241.2" r="3.32" fill="#3b4c93"/>
<circle cx="488.3" cy="241.5" r="3.52" fill="#2e6094"/>
<circle cx="495.2" cy="241.5" r="3.62" fill="#2a738e"/>
<circle cx="452.7" cy="232.0" r="3.62" fill="#2a738e"/>
<circle cx="78.5" cy="224.1" r="3.52" fill="#2e6094"/>
<circle cx="95.1" cy="224.8" r="3.52" fill="#2e6094"/>
<circle cx="124.0" cy="221.6" r="3.62" fill="#2a738e"/>
<circle cx="143.1" cy="230.4" r="3.52" fill="#2e6094"/>
<circle cx="111.2" cy="236.9" r="3.52" fill="#2e6094"/>
<circle cx="162.4" cy="220.0" r="3.52" fill="#2e6094"/>
<circle cx="163.4" cy="219.3" r="3.82" fill="#1b888c"/>
<circle cx="162.9" cy="229.6" r="3.52" fill="#2e6094"/>
<circle cx="134.3" cy="248.2" r="3.52" fill="#2e6094"/>
<circle cx="149.1" cy="258.0" r="3.52" fill="#2e6094"/>
<circle cx="117.7" cy="257.8" r="4.27" fill="#35b779"/>
<circle cx="113.2" cy="259.0" r="3.52" fill="#2e6094"/>
<circle cx="108.4" cy="259.3" r="3.62" fill="#2a738e"/>
<circle cx="118.2" cy="266.3" r="3.32" fill="#3b4c93"/>
<circle cx="127.5" cy="274.3" r="3.62" fill="#2a738e"/>
<circle cx="118.9" cy="277.9" r="3.52" fill="#2e6094"/>
<circle cx="111.9" cy="278.4" r="3.17" fill="#3f448c"/>
<circle cx="112.7" cy="281.9" r="3.62" fill="#2a738e"/>
<circle cx="161.9" cy="265.6" r="3.52" fill="#2e6094"/>
<circle cx="117.6" cy="291.6" r="3.52" fill="#2e6094"/>
<circle cx="121.7" cy="289.8" r="3.97" fill="#199b82"/>
<circle cx="126.4" cy="293.8" r="3.17" fill="#3f448c"/>
<circle cx="132.4" cy="293.5" r="3.82" fill="#1b888c"/>
<circle cx="128.6" cy="286.6" r="3.62" fill="#2a738e"/>
<circle cx="133.3" cy="285.4" r="3.52" fill="#2e6094"/>
<circle cx="132.6" cy="298.8" r="3.62" fill="#2a738e"/>
<circle cx="139.2" cy="301.9" r="3.52" fill="#2e6094"/>
<circle cx="139.2" cy="308.8" r="3.52" fill="#2e6094"/>
<circle cx="145.2" cy="303.2" r="3.52" fill="#2e6094"/>
<circle cx="151.9" cy="304.2" r="3.52" fill="#2e6094"/>
<circle cx="151.5" cy="300.7" r="3.82" fill="#1b888c"/>
<circle cx="145.8" cy="297.9" r="3.52" fill="#2e6094"/>
<circle cx="143.3" cy="295.4" r="3.17" fill="#3f448c"/>
<circle cx="151.5" cy="293.2" r="3.32" fill="#3b4c93"/>
<circle cx="169.1" cy="293.5" r="3.52" fill="#2e6094"/>
<circle cx="158.4" cy="293.2" r="3.52" fill="#2e6094"/>
<circle cx="155.2" cy="288.8" r="3.52" fill="#2e6094"/>
<circle cx="162.8" cy="288.8" r="3.82" fill="#1b888c"/>
<circle cx="168.4" cy="284.4" r="3.52" fill="#2e6094"/>
<circle cx="162.8" cy="283.1" r="3.62" fill="#2a738e"/>
<circle cx="140.8" cy="281.2" r="3.52" fill="#2e6094"/>
<circle cx="136.4" cy="280.6" r="3.52" fill="#2e6094"/>
<circle cx="142.7" cy="285.0" r="3.52" fill="#2e6094"/>
<circle cx="142.7" cy="288.1" r="3.52" fill="#2e6094"/>
<circle cx="137.7" cy="290.0" r="3.52" fill="#2e6094"/>
<circle cx="146.5" cy="277.5" r="3.62" fill="#2a738e"/>
<circle cx="150.6" cy="280.6" r="3.52" fill="#2e6094"/>
<circle cx="160.0" cy="278.7" r="3.82" fill="#1b888c"/>
<circle cx="160.9" cy="274.1" r="3.52" fill="#2e6094"/>
<circle cx="155.2" cy="271.8" r="3.62" fill="#2a738e"/>
<circle cx="150.8" cy="273.1" r="3.62" fill="#2a738e"/>
<circle cx="144.2" cy="269.0" r="3.52" fill="#2e6094"/>
<circle cx="141.4" cy="269.9" r="3.52" fill="#2e6094"/>
<circle cx="141.4" cy="273.7" r="3.17" fill="#3f448c"/>
<circle cx="150.2" cy="268.7" r="3.17" fill="#3f448c"/>
<circle cx="155.2" cy="269.9" r="3.52" fill="#2e6094"/>
<circle cx="175.0" cy="275.6" r="3.52" fill="#2e6094"/>
<circle cx="173.2" cy="278.1" r="3.17" fill="#3f448c"/>
<circle cx="176.8" cy="269.9" r="3.52" fill="#2e6094"/>
<circle cx="182.0" cy="269.3" r="3.52" fill="#2e6094"/>
<circle cx="165.3" cy="275.6" r="3.17" fill="#3f448c"/>
<circle cx="166.5" cy="279.3" r="3.52" fill="#2e6094"/>
<circle cx="155.9" cy="276.2" r="3.52" fill="#2e6094"/>
<circle cx="176.6" cy="217.2" r="3.52" fill="#2e6094"/>
<circle cx="183.9" cy="221.3" r="3.52" fill="#2e6094"/>
<circle cx="180.2" cy="221.1" r="3.52" fill="#2e6094"/>
<circle cx="202.1" cy="210.9" r="3.52" fill="#2e6094"/>
<circle cx="208.4" cy="209.4" r="3.52" fill="#2e6094"/>
<circle cx="204.0" cy="215.3" r="3.62" fill="#2a738e"/>
<circle cx="198.6" cy="220.4" r="3.32" fill="#3b4c93"/>
<circle cx="212.4" cy="220.1" r="3.32" fill="#3b4c93"/>
<circle cx="203.4" cy="222.2" r="3.82" fill="#1b888c"/>
<circle cx="208.2" cy="226.6" r="3.52" fill="#2e6094"/>
<circle cx="221.0" cy="218.4" r="3.52" fill="#2e6094"/>
<circle cx="236.0" cy="219.1" r="3.52" fill="#2e6094"/>
<circle cx="245.4" cy="210.0" r="3.32" fill="#3b4c93"/>
<circle cx="246.9" cy="214.7" r="3.82" fill="#1b888c"/>
<circle cx="197.4" cy="240.8" r="3.52" fill="#2e6094"/>
<circle cx="229.5" cy="240.5" r="3.32" fill="#3b4c93"/>
<circle cx="190.8" cy="245.8" r="3.82" fill="#1b888c"/>
<circle cx="185.6" cy="248.9" r="3.52" fill="#2e6094"/>
<circle cx="190.0" cy="251.1" r="3.52" fill="#2e6094"/>
<circle cx="200.2" cy="253.3" r="3.52" fill="#2e6094"/>
<circle cx="195.6" cy="252.5" r="4.27" fill="#35b779"/>
<circle cx="182.9" cy="255.2" r="3.82" fill="#1b888c"/>
<circle cx="208.4" cy="252.7" r="3.52" fill="#2e6094"/>
<circle cx="212.8" cy="252.7" r="3.52" fill="#2e6094"/>
<circle cx="217.8" cy="252.7" r="3.52" fill="#2e6094"/>
<circle cx="222.9" cy="252.7" r="3.52" fill="#2e6094"/>
<circle cx="251.1" cy="255.2" r="3.52" fill="#2e6094"/>
<circle cx="256.1" cy="256.5" r="3.82" fill="#1b888c"/>
<circle cx="257.4" cy="248.9" r="3.52" fill="#2e6094"/>
<circle cx="202.8" cy="258.8" r="3.52" fill="#2e6094"/>
<circle cx="209.7" cy="261.6" r="3.52" fill="#2e6094"/>
<circle cx="217.8" cy="257.5" r="3.52" fill="#2e6094"/>
<circle cx="223.2" cy="260.9" r="3.62" fill="#2a738e"/>
<circle cx="194.6" cy="262.8" r="3.32" fill="#3b4c93"/>
<circle cx="204.0" cy="264.8" r="3.17" fill="#3f448c"/>
<circle cx="207.2" cy="267.6" r="3.82" fill="#1b888c"/>
<circle cx="201.9" cy="269.5" r="3.82" fill="#1b888c"/>
<circle cx="197.7" cy="272.6" r="3.52" fill="#2e6094"/>
<circle cx="190.8" cy="269.1" r="3.52" fill="#2e6094"/>
<circle cx="188.3" cy="273.2" r="3.62" fill="#2a738e"/>
<circle cx="201.5" cy="278.5" r="3.52" fill="#2e6094"/>
<circle cx="199.6" cy="285.8" r="3.32" fill="#3b4c93"/>
<circle cx="192.3" cy="291.2" r="3.52" fill="#2e6094"/>
<circle cx="213.8" cy="279.1" r="3.62" fill="#2a738e"/>
<circle cx="211.9" cy="283.6" r="3.52" fill="#2e6094"/>
<circle cx="208.4" cy="285.8" r="3.52" fill="#2e6094"/>
<circle cx="210.3" cy="290.2" r="3.52" fill="#2e6094"/>
<circle cx="233.8" cy="263.2" r="3.82" fill="#1b888c"/>
<circle cx="240.0" cy="263.3" r="3.52" fill="#2e6094"/>
<circle cx="242.3" cy="263.6" r="3.52" fill="#2e6094"/>
<circle cx="236.7" cy="268.2" r="3.17" fill="#3f448c"/>
<circle cx="237.9" cy="272.9" r="3.62" fill="#2a738e"/>
<circle cx="252.0" cy="269.1" r="3.52" fill="#2e6094"/>
<circle cx="253.6" cy="276.6" r="3.82" fill="#1b888c"/>
<circle cx="257.4" cy="276.4" r="3.17" fill="#3f448c"/>
<circle cx="244.2" cy="279.5" r="3.62" fill="#2a738e"/>
<circle cx="241.7" cy="282.0" r="3.62" fill="#2a738e"/>
<circle cx="250.8" cy="282.0" r="3.52" fill="#2e6094"/>
<circle cx="241.7" cy="286.4" r="3.52" fill="#2e6094"/>
<circle cx="249.2" cy="287.3" r="3.82" fill="#1b888c"/>
<circle cx="240.4" cy="290.8" r="3.52" fill="#2e6094"/>
<circle cx="258.0" cy="288.9" r="3.52" fill="#2e6094"/>
<circle cx="224.1" cy="296.7" r="3.32" fill="#3b4c93"/>
<circle cx="223.2" cy="303.4" r="3.62" fill="#2a738e"/>
<circle cx="237.3" cy="299.2" r="3.97" fill="#199b82"/>
<circle cx="254.6" cy="298.6" r="3.52" fill="#2e6094"/>
<circle cx="241.0" cy="304.2" r="3.52" fill="#2e6094"/>
<circle cx="281.1" cy="228.2" r="3.52" fill="#2e6094"/>
<circle cx="295.8" cy="234.5" r="3.52" fill="#2e6094"/>
<circle cx="274.5" cy="239.2" r="3.52" fill="#2e6094"/>
<circle cx="264.0" cy="241.2" r="3.52" fill="#2e6094"/>
<circle cx="308.0" cy="237.0" r="3.32" fill="#3b4c93"/>
<circle cx="314.6" cy="234.1" r="3.62" fill="#2a738e"/>
<circle cx="319.7" cy="237.3" r="3.82" fill="#1b888c"/>
<circle cx="325.6" cy="238.9" r="3.52" fill="#2e6094"/>
<circle cx="320.3" cy="242.1" r="3.82" fill="#1b888c"/>
<circle cx="312.1" cy="242.9" r="3.52" fill="#2e6094"/>
<circle cx="329.7" cy="243.7" r="3.82" fill="#1b888c"/>
<circle cx="338.5" cy="233.3" r="3.52" fill="#2e6094"/>
<circle cx="300.8" cy="244.6" r="3.62" fill="#2a738e"/>
<circle cx="291.4" cy="244.6" r="3.17" fill="#3f448c"/>
<circle cx="305.8" cy="247.5" r="3.32" fill="#3b4c93"/>
<circle cx="290.2" cy="248.3" r="3.32" fill="#3b4c93"/>
<circle cx="284.5" cy="249.0" r="3.52" fill="#2e6094"/>
<circle cx="276.3" cy="247.1" r="3.52" fill="#2e6094"/>
<circle cx="260.0" cy="248.1" r="3.62" fill="#2a738e"/>
<circle cx="267.6" cy="252.1" r="3.52" fill="#2e6094"/>
<circle cx="278.9" cy="252.7" r="3.17" fill="#3f448c"/>
<circle cx="316.5" cy="249.6" r="3.52" fill="#2e6094"/>
<circle cx="320.9" cy="245.8" r="3.82" fill="#1b888c"/>
<circle cx="335.4" cy="247.7" r="3.52" fill="#2e6094"/>
<circle cx="340.4" cy="249.0" r="3.82" fill="#1b888c"/>
<circle cx="307.1" cy="252.7" r="3.17" fill="#3f448c"/>
<circle cx="293.5" cy="252.4" r="3.82" fill="#1b888c"/>
<circle cx="311.5" cy="250.2" r="3.62" fill="#2a738e"/>
<circle cx="261.9" cy="258.2" r="3.62" fill="#2a738e"/>
<circle cx="272.6" cy="262.0" r="3.52" fill="#2e6094"/>
<circle cx="271.3" cy="265.7" r="3.52" fill="#2e6094"/>
<circle cx="278.2" cy="265.7" r="3.32" fill="#3b4c93"/>
<circle cx="283.2" cy="256.9" r="3.82" fill="#1b888c"/>
<circle cx="275.1" cy="253.2" r="3.17" fill="#3f448c"/>
<circle cx="293.9" cy="259.5" r="3.52" fill="#2e6094"/>
<circle cx="288.3" cy="266.4" r="3.17" fill="#3f448c"/>
<circle cx="292.3" cy="268.6" r="3.52" fill="#2e6094"/>
<circle cx="295.8" cy="265.7" r="3.17" fill="#3f448c"/>
<circle cx="298.9" cy="256.3" r="3.82" fill="#1b888c"/>
<circle cx="302.5" cy="256.3" r="3.52" fill="#2e6094"/>
<circle cx="310.2" cy="255.1" r="3.82" fill="#1b888c"/>
<circle cx="321.5" cy="256.3" r="3.32" fill="#3b4c93"/>
<circle cx="315.3" cy="261.3" r="3.52" fill="#2e6094"/>
<circle cx="322.8" cy="262.3" r="4.47" fill="#7ad151"/>
<circle cx="319.0" cy="267.0" r="3.97" fill="#199b82"/>
<circle cx="308.7" cy="266.4" r="3.62" fill="#2a738e"/>
<circle cx="305.8" cy="273.3" r="3.52" fill="#2e6094"/>
<circle cx="304.0" cy="260.7" r="3.82" fill="#1b888c"/>
<circle cx="326.6" cy="267.0" r="3.52" fill="#2e6094"/>
<circle cx="330.3" cy="263.2" r="3.32" fill="#3b4c93"/>
<circle cx="334.5" cy="256.3" r="3.52" fill="#2e6094"/>
<circle cx="335.4" cy="267.0" r="3.82" fill="#1b888c"/>
<circle cx="338.5" cy="264.5" r="3.52" fill="#2e6094"/>
<circle cx="340.4" cy="256.3" r="3.52" fill="#2e6094"/>
<circle cx="265.3" cy="288.3" r="3.97" fill="#199b82"/>
<circle cx="278.2" cy="284.6" r="3.52" fill="#2e6094"/>
<circle cx="284.5" cy="285.8" r="3.17" fill="#3f448c"/>
<circle cx="275.7" cy="289.0" r="3.52" fill="#2e6094"/>
<circle cx="286.4" cy="288.3" r="3.52" fill="#2e6094"/>
<circle cx="295.2" cy="285.8" r="3.32" fill="#3b4c93"/>
<circle cx="295.2" cy="290.8" r="3.62" fill="#2a738e"/>
<circle cx="305.2" cy="291.5" r="3.52" fill="#2e6094"/>
<circle cx="278.5" cy="294.0" r="3.32" fill="#3b4c93"/>
<circle cx="310.2" cy="292.7" r="3.82" fill="#1b888c"/>
<circle cx="290.2" cy="291.5" r="3.52" fill="#2e6094"/>
<circle cx="283.9" cy="286.9" r="3.52" fill="#2e6094"/>
<circle cx="315.9" cy="295.1" r="3.62" fill="#2a738e"/>
<circle cx="320.9" cy="298.8" r="3.52" fill="#2e6094"/>
<circle cx="327.8" cy="297.6" r="3.32" fill="#3b4c93"/>
<circle cx="326.2" cy="301.3" r="3.52" fill="#2e6094"/>
<circle cx="335.4" cy="304.5" r="3.52" fill="#2e6094"/>
<circle cx="340.4" cy="307.0" r="3.52" fill="#2e6094"/>
<circle cx="286.4" cy="296.3" r="3.52" fill="#2e6094"/>
<circle cx="290.8" cy="300.7" r="3.32" fill="#3b4c93"/>
<circle cx="286.4" cy="302.6" r="3.82" fill="#1b888c"/>
<circle cx="298.3" cy="303.9" r="3.52" fill="#2e6094"/>
<circle cx="268.2" cy="296.3" r="3.52" fill="#2e6094"/>
<circle cx="265.7" cy="300.1" r="3.62" fill="#2a738e"/>
<circle cx="264.3" cy="305.7" r="3.82" fill="#1b888c"/>
<circle cx="268.2" cy="307.0" r="3.52" fill="#2e6094"/>
<circle cx="274.5" cy="308.9" r="3.62" fill="#2a738e"/>
<circle cx="280.7" cy="308.9" r="3.52" fill="#2e6094"/>
<circle cx="302.7" cy="300.1" r="3.17" fill="#3f448c"/>
<circle cx="309.6" cy="301.3" r="3.52" fill="#2e6094"/>
<circle cx="307.1" cy="306.4" r="3.52" fill="#2e6094"/>
<circle cx="315.9" cy="307.9" r="3.82" fill="#1b888c"/>
<circle cx="309.0" cy="312.0" r="3.52" fill="#2e6094"/>
<circle cx="317.8" cy="313.3" r="3.97" fill="#199b82"/>
<circle cx="325.3" cy="310.8" r="3.62" fill="#2a738e"/>
<circle cx="330.3" cy="310.1" r="3.52" fill="#2e6094"/>
<circle cx="323.4" cy="315.8" r="3.32" fill="#3b4c93"/>
<circle cx="329.1" cy="317.7" r="3.17" fill="#3f448c"/>
<circle cx="334.7" cy="315.2" r="3.52" fill="#2e6094"/>
<circle cx="335.4" cy="323.3" r="3.52" fill="#2e6094"/>
<circle cx="339.7" cy="317.0" r="3.52" fill="#2e6094"/>
<circle cx="271.3" cy="315.2" r="3.82" fill="#1b888c"/>
<circle cx="277.6" cy="313.9" r="3.52" fill="#2e6094"/>
<circle cx="282.4" cy="313.9" r="3.32" fill="#3b4c93"/>
<circle cx="290.2" cy="312.0" r="3.32" fill="#3b4c93"/>
<circle cx="296.4" cy="313.9" r="3.52" fill="#2e6094"/>
<circle cx="302.5" cy="316.4" r="3.52" fill="#2e6094"/>
<circle cx="307.5" cy="323.9" r="3.97" fill="#199b82"/>
<circle cx="300.2" cy="325.2" r="3.52" fill="#2e6094"/>
<circle cx="297.7" cy="327.1" r="3.52" fill="#2e6094"/>
<circle cx="285.1" cy="318.9" r="3.82" fill="#1b888c"/>
<circle cx="283.9" cy="323.3" r="3.82" fill="#1b888c"/>
<circle cx="277.6" cy="323.3" r="3.52" fill="#2e6094"/>
<circle cx="271.3" cy="321.4" r="3.52" fill="#2e6094"/>
<circle cx="266.9" cy="321.4" r="3.17" fill="#3f448c"/>
<circle cx="262.5" cy="322.7" r="3.52" fill="#2e6094"/>
<circle cx="256.9" cy="323.3" r="3.82" fill="#1b888c"/>
<circle cx="260.6" cy="327.1" r="3.52" fill="#2e6094"/>
<circle cx="274.5" cy="328.3" r="3.52" fill="#2e6094"/>
<circle cx="290.8" cy="330.8" r="3.52" fill="#2e6094"/>
<circle cx="288.9" cy="334.0" r="3.32" fill="#3b4c93"/>
<circle cx="313.4" cy="329.6" r="3.52" fill="#2e6094"/>
<circle cx="257.5" cy="310.1" r="3.52" fill="#2e6094"/>
<circle cx="273.8" cy="298.8" r="3.52" fill="#2e6094"/>
<circle cx="280.7" cy="299.5" r="3.52" fill="#2e6094"/>
<circle cx="208.8" cy="328.0" r="3.52" fill="#2e6094"/>
<circle cx="218.9" cy="330.6" r="3.32" fill="#3b4c93"/>
<circle cx="206.9" cy="334.1" r="3.32" fill="#3b4c93"/>
<circle cx="202.6" cy="338.7" r="3.52" fill="#2e6094"/>
<circle cx="210.7" cy="337.5" r="3.52" fill="#2e6094"/>
<circle cx="205.7" cy="343.7" r="3.17" fill="#3f448c"/>
<circle cx="209.5" cy="343.1" r="3.52" fill="#2e6094"/>
<circle cx="216.4" cy="341.9" r="3.52" fill="#2e6094"/>
<circle cx="205.1" cy="349.4" r="3.62" fill="#2a738e"/>
<circle cx="213.9" cy="347.5" r="3.52" fill="#2e6094"/>
<circle cx="210.7" cy="352.5" r="3.52" fill="#2e6094"/>
<circle cx="215.7" cy="353.8" r="3.17" fill="#3f448c"/>
<circle cx="220.1" cy="356.3" r="3.62" fill="#2a738e"/>
<circle cx="220.1" cy="348.1" r="3.82" fill="#1b888c"/>
<circle cx="222.6" cy="340.6" r="3.32" fill="#3b4c93"/>
<circle cx="227.0" cy="341.2" r="3.52" fill="#2e6094"/>
<circle cx="231.4" cy="340.6" r="3.17" fill="#3f448c"/>
<circle cx="226.4" cy="335.6" r="3.62" fill="#2a738e"/>
<circle cx="231.8" cy="330.6" r="3.32" fill="#3b4c93"/>
<circle cx="235.2" cy="336.8" r="3.52" fill="#2e6094"/>
<circle cx="228.9" cy="348.8" r="3.32" fill="#3b4c93"/>
<circle cx="226.4" cy="353.2" r="3.32" fill="#3b4c93"/>
<circle cx="232.1" cy="351.3" r="3.82" fill="#1b888c"/>
<circle cx="233.9" cy="355.0" r="3.52" fill="#2e6094"/>
<circle cx="229.5" cy="361.3" r="3.52" fill="#2e6094"/>
<circle cx="236.5" cy="361.3" r="3.52" fill="#2e6094"/>
<circle cx="237.7" cy="358.2" r="3.62" fill="#2a738e"/>
<circle cx="223.9" cy="358.2" r="3.17" fill="#3f448c"/>
<circle cx="236.5" cy="343.1" r="3.52" fill="#2e6094"/>
<circle cx="242.1" cy="338.1" r="3.32" fill="#3b4c93"/>
<circle cx="247.1" cy="341.9" r="3.52" fill="#2e6094"/>
<circle cx="247.1" cy="347.5" r="3.52" fill="#2e6094"/>
<circle cx="252.1" cy="347.5" r="3.32" fill="#3b4c93"/>
<circle cx="243.4" cy="349.4" r="3.17" fill="#3f448c"/>
<circle cx="237.7" cy="325.5" r="3.52" fill="#2e6094"/>
<circle cx="243.4" cy="331.2" r="3.62" fill="#2a738e"/>
<circle cx="248.4" cy="335.6" r="3.52" fill="#2e6094"/>
<circle cx="254.0" cy="338.1" r="3.32" fill="#3b4c93"/>
<circle cx="256.5" cy="331.8" r="3.52" fill="#2e6094"/>
<circle cx="256.5" cy="344.1" r="3.32" fill="#3b4c93"/>
<circle cx="257.4" cy="351.3" r="3.82" fill="#1b888c"/>
<circle cx="247.8" cy="356.9" r="3.62" fill="#2a738e"/>
<circle cx="249.6" cy="363.2" r="3.62" fill="#2a738e"/>
<circle cx="257.8" cy="360.4" r="3.32" fill="#3b4c93"/>
<circle cx="266.6" cy="353.4" r="3.32" fill="#3b4c93"/>
<circle cx="266.0" cy="334.1" r="3.52" fill="#2e6094"/>
<circle cx="247.1" cy="326.2" r="3.32" fill="#3b4c93"/>
<circle cx="252.8" cy="325.5" r="3.82" fill="#1b888c"/>
<circle cx="276.6" cy="344.0" r="3.62" fill="#2a738e"/>
<circle cx="275.4" cy="353.8" r="3.82" fill="#1b888c"/>
<circle cx="322.2" cy="334.4" r="3.17" fill="#3f448c"/>
<circle cx="320.7" cy="343.6" r="3.82" fill="#1b888c"/>
<circle cx="303.2" cy="343.8" r="3.32" fill="#3b4c93"/>
<circle cx="278.7" cy="353.2" r="3.52" fill="#2e6094"/>
<circle cx="278.0" cy="355.8" r="3.52" fill="#2e6094"/>
<circle cx="298.1" cy="370.4" r="3.52" fill="#2e6094"/>
<circle cx="282.8" cy="373.0" r="3.62" fill="#2a738e"/>
<circle cx="275.8" cy="375.8" r="3.52" fill="#2e6094"/>
<circle cx="286.8" cy="378.4" r="3.52" fill="#2e6094"/>
<circle cx="322.4" cy="374.8" r="3.52" fill="#2e6094"/>
<circle cx="349.0" cy="349.5" r="3.32" fill="#3b4c93"/>
<circle cx="352.7" cy="347.6" r="3.62" fill="#2a738e"/>
<circle cx="351.5" cy="354.5" r="3.52" fill="#2e6094"/>
<circle cx="352.7" cy="362.0" r="3.82" fill="#1b888c"/>
<circle cx="351.3" cy="379.5" r="3.32" fill="#3b4c93"/>
<circle cx="343.8" cy="238.2" r="3.32" fill="#3b4c93"/>
<circle cx="346.6" cy="240.1" r="3.82" fill="#1b888c"/>
<circle cx="352.0" cy="241.4" r="3.32" fill="#3b4c93"/>
<circle cx="347.6" cy="248.9" r="3.62" fill="#2a738e"/>
<circle cx="352.0" cy="246.8" r="3.52" fill="#2e6094"/>
<circle cx="353.8" cy="252.0" r="3.32" fill="#3b4c93"/>
<circle cx="358.9" cy="241.4" r="3.62" fill="#2a738e"/>
<circle cx="362.0" cy="241.4" r="3.32" fill="#3b4c93"/>
<circle cx="362.0" cy="246.4" r="3.62" fill="#2a738e"/>
<circle cx="365.1" cy="245.8" r="3.52" fill="#2e6094"/>
<circle cx="368.3" cy="245.1" r="3.52" fill="#2e6094"/>
<circle cx="375.8" cy="235.3" r="3.52" fill="#2e6094"/>
<circle cx="377.1" cy="248.3" r="3.17" fill="#3f448c"/>
<circle cx="379.6" cy="250.4" r="3.82" fill="#1b888c"/>
<circle cx="373.3" cy="255.4" r="3.32" fill="#3b4c93"/>
<circle cx="381.2" cy="256.2" r="3.82" fill="#1b888c"/>
<circle cx="385.8" cy="249.1" r="3.52" fill="#2e6094"/>
<circle cx="387.7" cy="243.9" r="3.52" fill="#2e6094"/>
<circle cx="391.1" cy="237.8" r="3.62" fill="#2a738e"/>
<circle cx="394.6" cy="239.5" r="3.52" fill="#2e6094"/>
<circle cx="393.6" cy="245.1" r="3.32" fill="#3b4c93"/>
<circle cx="398.2" cy="235.7" r="3.17" fill="#3f448c"/>
<circle cx="400.9" cy="228.2" r="3.52" fill="#2e6094"/>
<circle cx="401.5" cy="219.8" r="3.62" fill="#2a738e"/>
<circle cx="404.1" cy="238.9" r="3.82" fill="#1b888c"/>
<circle cx="404.1" cy="246.4" r="3.32" fill="#3b4c93"/>
<circle cx="412.2" cy="245.8" r="3.17" fill="#3f448c"/>
<circle cx="409.1" cy="246.4" r="3.97" fill="#199b82"/>
<circle cx="413.5" cy="231.3" r="3.32" fill="#3b4c93"/>
<circle cx="421.0" cy="230.1" r="3.52" fill="#2e6094"/>
<circle cx="404.4" cy="257.1" r="3.82" fill="#1b888c"/>
<circle cx="416.6" cy="261.7" r="3.32" fill="#3b4c93"/>
<circle cx="377.1" cy="265.8" r="3.52" fill="#2e6094"/>
<circle cx="352.6" cy="264.6" r="3.52" fill="#2e6094"/>
<circle cx="349.4" cy="264.8" r="3.82" fill="#1b888c"/>
<circle cx="358.9" cy="268.4" r="3.82" fill="#1b888c"/>
<circle cx="344.0" cy="271.3" r="3.62" fill="#2a738e"/>
<circle cx="341.9" cy="268.2" r="3.52" fill="#2e6094"/>
<circle cx="350.7" cy="271.3" r="3.52" fill="#2e6094"/>
<circle cx="352.6" cy="273.8" r="3.62" fill="#2a738e"/>
<circle cx="364.5" cy="275.1" r="3.52" fill="#2e6094"/>
<circle cx="358.0" cy="277.6" r="3.52" fill="#2e6094"/>
<circle cx="360.7" cy="280.7" r="3.52" fill="#2e6094"/>
<circle cx="368.0" cy="282.0" r="3.62" fill="#2a738e"/>
<circle cx="370.8" cy="285.1" r="3.52" fill="#2e6094"/>
<circle cx="367.4" cy="289.5" r="3.32" fill="#3b4c93"/>
<circle cx="386.9" cy="275.7" r="3.32" fill="#3b4c93"/>
<circle cx="386.2" cy="286.0" r="3.82" fill="#1b888c"/>
<circle cx="393.6" cy="287.0" r="3.62" fill="#2a738e"/>
<circle cx="402.8" cy="285.4" r="3.62" fill="#2a738e"/>
<circle cx="409.1" cy="278.9" r="3.82" fill="#1b888c"/>
<circle cx="408.1" cy="281.7" r="3.52" fill="#2e6094"/>
<circle cx="408.2" cy="292.7" r="3.52" fill="#2e6094"/>
<circle cx="349.8" cy="309.8" r="3.82" fill="#1b888c"/>
<circle cx="352.3" cy="311.1" r="3.52" fill="#2e6094"/>
<circle cx="356.3" cy="313.2" r="3.17" fill="#3f448c"/>
<circle cx="355.1" cy="318.2" r="3.62" fill="#2a738e"/>
<circle cx="343.8" cy="317.2" r="3.62" fill="#2a738e"/>
<circle cx="347.9" cy="322.4" r="3.52" fill="#2e6094"/>
<circle cx="378.3" cy="306.3" r="3.62" fill="#2a738e"/>
<circle cx="374.3" cy="310.9" r="3.52" fill="#2e6094"/>
<circle cx="382.7" cy="307.9" r="3.52" fill="#2e6094"/>
<circle cx="385.9" cy="309.8" r="3.52" fill="#2e6094"/>
<circle cx="389.0" cy="306.0" r="3.17" fill="#3f448c"/>
<circle cx="391.5" cy="308.6" r="3.52" fill="#2e6094"/>
<circle cx="392.1" cy="314.1" r="3.52" fill="#2e6094"/>
<circle cx="395.3" cy="304.4" r="3.52" fill="#2e6094"/>
<circle cx="397.4" cy="306.6" r="3.32" fill="#3b4c93"/>
<circle cx="401.5" cy="308.6" r="3.32" fill="#3b4c93"/>
<circle cx="403.4" cy="310.7" r="3.17" fill="#3f448c"/>
<circle cx="406.6" cy="310.3" r="3.52" fill="#2e6094"/>
<circle cx="382.7" cy="332.7" r="3.52" fill="#2e6094"/>
<circle cx="378.9" cy="339.9" r="3.32" fill="#3b4c93"/>
<circle cx="386.5" cy="338.9" r="3.52" fill="#2e6094"/>
<circle cx="388.7" cy="341.8" r="3.97" fill="#199b82"/>
<circle cx="394.6" cy="344.0" r="3.82" fill="#1b888c"/>
<circle cx="405.9" cy="346.5" r="3.52" fill="#2e6094"/>
<circle cx="410.7" cy="344.0" r="3.52" fill="#2e6094"/>
<circle cx="418.5" cy="334.2" r="3.32" fill="#3b4c93"/>
<circle cx="421.0" cy="342.1" r="3.52" fill="#2e6094"/>
<circle cx="418.9" cy="342.1" r="3.52" fill="#2e6094"/>
<circle cx="356.3" cy="351.0" r="3.17" fill="#3f448c"/>
<circle cx="359.5" cy="352.9" r="3.52" fill="#2e6094"/>
<circle cx="353.8" cy="364.5" r="3.82" fill="#1b888c"/>
<circle cx="359.2" cy="361.7" r="3.52" fill="#2e6094"/>
<circle cx="380.2" cy="362.6" r="3.52" fill="#2e6094"/>
<circle cx="389.9" cy="361.1" r="3.62" fill="#2a738e"/>
<circle cx="395.6" cy="374.2" r="3.52" fill="#2e6094"/>
<circle cx="399.9" cy="351.9" r="3.52" fill="#2e6094"/>
<circle cx="411.6" cy="378.9" r="3.62" fill="#2a738e"/>
<circle cx="415.7" cy="379.3" r="3.62" fill="#2a738e"/>
<circle cx="421.3" cy="379.6" r="3.62" fill="#2a738e"/>
<circle cx="409.7" cy="384.2" r="3.32" fill="#3b4c93"/>
<circle cx="459.0" cy="248.1" r="3.62" fill="#2a738e"/>
<circle cx="476.6" cy="248.3" r="3.52" fill="#2e6094"/>
<circle cx="477.8" cy="251.4" r="3.17" fill="#3f448c"/>
<circle cx="467.0" cy="255.9" r="3.62" fill="#2a738e"/>
<circle cx="467.8" cy="258.9" r="3.97" fill="#199b82"/>
<circle cx="488.4" cy="246.3" r="3.62" fill="#2a738e"/>
<circle cx="423.8" cy="274.5" r="3.52" fill="#2e6094"/>
<circle cx="434.1" cy="294.3" r="3.52" fill="#2e6094"/>
<circle cx="445.9" cy="308.9" r="3.62" fill="#2a738e"/>
<circle cx="459.2" cy="304.9" r="3.52" fill="#2e6094"/>
<circle cx="460.0" cy="310.4" r="3.97" fill="#199b82"/>
<circle cx="469.3" cy="306.1" r="3.32" fill="#3b4c93"/>
<circle cx="469.3" cy="318.4" r="3.62" fill="#2a738e"/>
<circle cx="477.8" cy="316.4" r="3.32" fill="#3b4c93"/>
<circle cx="523.8" cy="257.4" r="3.52" fill="#2e6094"/>
<circle cx="530.6" cy="259.6" r="3.82" fill="#1b888c"/>
<circle cx="534.9" cy="260.4" r="3.97" fill="#199b82"/>
<circle cx="580.9" cy="280.0" r="3.32" fill="#3b4c93"/>
<circle cx="518.9" cy="325.7" r="3.62" fill="#2a738e"/>
<circle cx="529.0" cy="328.5" r="3.52" fill="#2e6094"/>
<circle cx="500.1" cy="348.3" r="3.62" fill="#2a738e"/>
<circle cx="517.0" cy="333.2" r="3.17" fill="#3f448c"/>
<circle cx="521.4" cy="337.0" r="3.17" fill="#3f448c"/>
<circle cx="518.3" cy="348.9" r="3.17" fill="#3f448c"/>
<circle cx="519.5" cy="343.0" r="3.52" fill="#2e6094"/>
<circle cx="526.0" cy="344.0" r="3.32" fill="#3b4c93"/>
<circle cx="525.8" cy="350.2" r="3.82" fill="#1b888c"/>
<circle cx="529.3" cy="347.7" r="3.82" fill="#1b888c"/>
<circle cx="532.5" cy="337.0" r="3.52" fill="#2e6094"/>
<circle cx="526.5" cy="336.1" r="3.62" fill="#2a738e"/>
<circle cx="514.1" cy="336.4" r="3.62" fill="#2a738e"/>
<circle cx="514.5" cy="345.2" r="3.32" fill="#3b4c93"/>
<circle cx="517.0" cy="340.8" r="3.32" fill="#3b4c93"/>
<circle cx="523.3" cy="340.1" r="3.52" fill="#2e6094"/>
<circle cx="530.0" cy="341.4" r="3.62" fill="#2a738e"/>
<circle cx="522.7" cy="345.5" r="3.82" fill="#1b888c"/>
<circle cx="591.6" cy="221.6" r="3.62" fill="#2a738e"/>
<circle cx="589.4" cy="261.3" r="3.62" fill="#2a738e"/>
<circle cx="193.0" cy="311.6" r="3.52" fill="#2e6094"/>
<circle cx="197.5" cy="315.8" r="3.32" fill="#3b4c93"/>
<circle cx="230.7" cy="313.5" r="3.32" fill="#3b4c93"/>
<circle cx="236.4" cy="310.1" r="3.62" fill="#2a738e"/>
<circle cx="243.9" cy="306.9" r="3.52" fill="#2e6094"/>
<circle cx="238.9" cy="314.5" r="3.52" fill="#2e6094"/>
<circle cx="245.8" cy="313.2" r="3.52" fill="#2e6094"/>
<circle cx="252.1" cy="313.2" r="3.62" fill="#2a738e"/>
<circle cx="246.4" cy="316.4" r="3.82" fill="#1b888c"/>
<circle cx="245.8" cy="320.5" r="3.32" fill="#3b4c93"/>
<circle cx="254.6" cy="317.0" r="3.82" fill="#1b888c"/>
<circle cx="435.4" cy="373.0" r="3.32" fill="#3b4c93"/>
<circle cx="322.1" cy="384.0" r="3.52" fill="#2e6094"/>
<circle cx="267.5" cy="325.1" r="3.32" fill="#3b4c93"/>
<circle cx="288.7" cy="324.2" r="3.82" fill="#1b888c"/>
<circle cx="261.0" cy="313.3" r="4.62" fill="#fde725"/>
<circle cx="263.2" cy="316.4" r="3.32" fill="#3b4c93"/>
<circle cx="555.6" cy="167.9" r="4.52" fill="#d0e11c"/>
<circle cx="556.8" cy="163.9" r="3.52" fill="#2e6094"/>
<circle cx="429.5" cy="221.7" r="3.62" fill="#2a738e"/>
<circle cx="423.9" cy="226.4" r="3.62" fill="#2a738e"/>
<circle cx="425.1" cy="228.6" r="3.32" fill="#3b4c93"/>
<circle cx="452.1" cy="225.1" r="3.52" fill="#2e6094"/>
<circle cx="450.2" cy="223.2" r="3.32" fill="#3b4c93"/>
<circle cx="239.6" cy="348.5" r="3.82" fill="#1b888c"/>
<circle cx="283.2" cy="291.5" r="3.97" fill="#199b82"/>
<circle cx="273.8" cy="302.6" r="3.97" fill="#199b82"/>
<circle cx="319.0" cy="333.4" r="3.62" fill="#2a738e"/>
<circle cx="323.2" cy="340.7" r="3.52" fill="#2e6094"/>
</g>
<rect x="38.2" y="17.3" width="646.3" height="384.7" fill="none" stroke="#000" stroke-width="0.9"/>
</svg></body></html>
